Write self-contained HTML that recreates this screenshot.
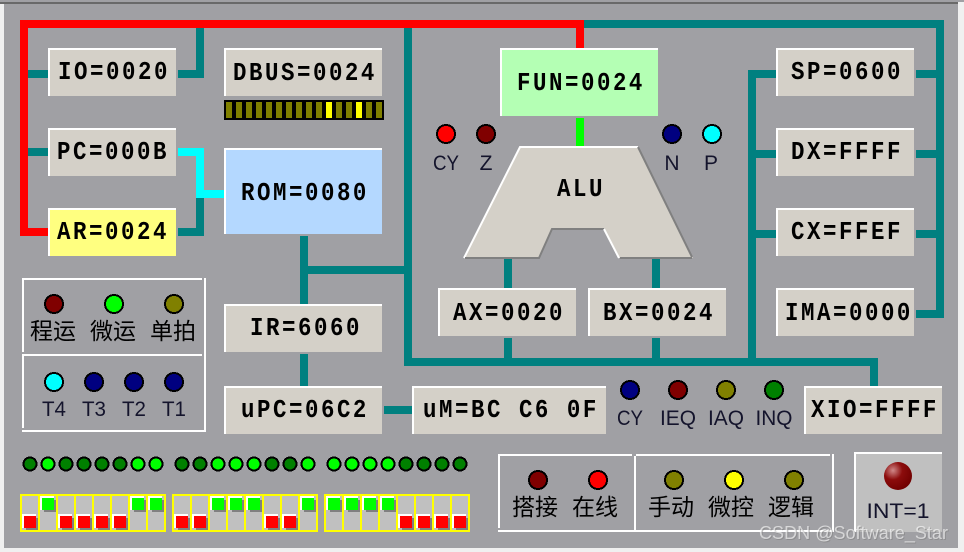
<!DOCTYPE html>
<html><head><meta charset="utf-8"><style>
html,body{margin:0;padding:0;background:#f0f0f0;width:964px;height:552px;overflow:hidden}
svg{display:block}
.m{font-family:"Liberation Mono",monospace;font-weight:bold;font-size:25.5px;letter-spacing:2.88px;fill:#000}
.s{font-family:"Liberation Sans",sans-serif;font-size:21px;fill:#14142c;text-anchor:middle}
.c{font-family:"Liberation Sans","WenQuanYi Zen Hei","Noto Sans CJK SC",sans-serif;font-size:23px;fill:#000;text-anchor:middle}
.l circle{stroke:#000;stroke-width:2}
</style></head><body>
<svg width="964" height="552" viewBox="0 0 964 552" xmlns="http://www.w3.org/2000/svg">
<defs>
<g id="on"><rect x="0" y="0" width="14" height="2" fill="#fff"/><rect x="0" y="0" width="2" height="14" fill="#fff"/><rect x="4" y="4" width="12" height="12" fill="#808080"/><rect x="2" y="2" width="12" height="12" fill="#0f0"/></g>
<g id="off"><rect x="0" y="0" width="14" height="2" fill="#fff"/><rect x="0" y="0" width="2" height="14" fill="#fff"/><rect x="4" y="4" width="12" height="12" fill="#808080"/><rect x="2" y="2" width="12" height="12" fill="#f00"/></g>
<radialGradient id="ball" cx="0.32" cy="0.3" r="0.75"><stop offset="0" stop-color="#d08888"/><stop offset="0.45" stop-color="#8c0c0c"/><stop offset="1" stop-color="#700000"/></radialGradient>
</defs>
<rect x="0" y="0" width="964" height="552" fill="#f0f0f0"/>
<rect x="4" y="0" width="954" height="548" fill="#a0a0a4"/>
<rect x="0" y="0" width="964" height="2" fill="#a0a0a4"/>
<rect x="0" y="2" width="958" height="2" fill="#696969"/>

<g shape-rendering="crispEdges">
<!-- teal wires -->
<g fill="#008080">
<rect x="28" y="70" width="20" height="8"/><rect x="28" y="148" width="20" height="8"/>
<rect x="178" y="70" width="26" height="8"/><rect x="196" y="28" width="8" height="50"/>
<rect x="178" y="228" width="26" height="8"/><rect x="196" y="198" width="8" height="38"/>
<rect x="300" y="236" width="8" height="68"/><rect x="300" y="266" width="108" height="8"/>
<rect x="300" y="354" width="8" height="32"/>
<rect x="384" y="406" width="28" height="8"/>
<rect x="404" y="28" width="8" height="338"/>
<rect x="404" y="358" width="474" height="8"/>
<rect x="870" y="358" width="8" height="28"/>
<rect x="748" y="70" width="8" height="296"/>
<rect x="748" y="70" width="28" height="8"/><rect x="748" y="150" width="28" height="8"/><rect x="748" y="230" width="28" height="8"/>
<rect x="584" y="20" width="360" height="8"/>
<rect x="936" y="20" width="8" height="298"/>
<rect x="916" y="70" width="28" height="8"/><rect x="916" y="150" width="28" height="8"/><rect x="916" y="230" width="28" height="8"/><rect x="916" y="310" width="28" height="8"/>
<rect x="504" y="258" width="8" height="30"/><rect x="504" y="338" width="8" height="22"/>
<rect x="652" y="258" width="8" height="30"/><rect x="652" y="338" width="8" height="22"/>
</g>
<!-- red wires -->
<g fill="#f00">
<rect x="20" y="20" width="564" height="8"/><rect x="20" y="20" width="8" height="216"/><rect x="20" y="228" width="28" height="8"/><rect x="576" y="20" width="8" height="28"/>
</g>
<!-- cyan -->
<g fill="#0ff">
<rect x="178" y="148" width="26" height="8"/><rect x="196" y="148" width="8" height="50"/><rect x="196" y="190" width="28" height="8"/>
</g>
<rect x="576" y="118" width="8" height="28" fill="#0f0"/>

<!-- boxes -->
<g fill="#fff">
<rect x="48" y="48" width="128" height="48"/><rect x="224" y="48" width="158" height="48"/>
<rect x="48" y="128" width="128" height="48"/><rect x="224" y="148" width="158" height="86"/>
<rect x="48" y="208" width="128" height="48"/><rect x="500" y="48" width="158" height="68"/>
<rect x="776" y="48" width="138" height="48"/><rect x="776" y="128" width="138" height="48"/>
<rect x="776" y="208" width="138" height="48"/><rect x="776" y="288" width="138" height="48"/>
<rect x="224" y="304" width="158" height="48"/><rect x="224" y="386" width="158" height="48"/>
<rect x="412" y="386" width="194" height="48"/><rect x="438" y="288" width="138" height="48"/>
<rect x="588" y="288" width="138" height="48"/><rect x="804" y="386" width="138" height="48"/>
<rect x="854" y="452" width="88" height="80"/>
</g>
<g fill="#d4d0c8">
<rect x="50" y="50" width="126" height="46"/><rect x="226" y="50" width="156" height="46"/>
<rect x="50" y="130" width="126" height="46"/>
<rect x="778" y="50" width="136" height="46"/><rect x="778" y="130" width="136" height="46"/>
<rect x="778" y="210" width="136" height="46"/><rect x="778" y="290" width="136" height="46"/>
<rect x="226" y="306" width="156" height="46"/><rect x="226" y="388" width="156" height="46"/>
<rect x="414" y="388" width="192" height="46"/><rect x="440" y="290" width="136" height="46"/>
<rect x="590" y="290" width="136" height="46"/><rect x="806" y="388" width="136" height="46"/>
</g>
<rect x="226" y="150" width="156" height="84" fill="#b4d8ff"/>
<rect x="50" y="210" width="126" height="46" fill="#ffff80"/>
<rect x="502" y="50" width="156" height="66" fill="#b4ffb4"/>
<rect x="856" y="454" width="86" height="78" fill="#c0c0c0"/>

<!-- DBUS bar -->
<rect x="224" y="100" width="160" height="20" fill="#000"/>
<g fill="#808000">
<rect x="226" y="102" width="6" height="16"/><rect x="236" y="102" width="6" height="16"/><rect x="246" y="102" width="6" height="16"/><rect x="256" y="102" width="6" height="16"/>
<rect x="266" y="102" width="6" height="16"/><rect x="276" y="102" width="6" height="16"/><rect x="286" y="102" width="6" height="16"/><rect x="296" y="102" width="6" height="16"/>
<rect x="306" y="102" width="6" height="16"/><rect x="316" y="102" width="6" height="16"/><rect x="326" y="102" width="6" height="16" fill="#ff0"/><rect x="336" y="102" width="6" height="16"/>
<rect x="346" y="102" width="6" height="16"/><rect x="356" y="102" width="6" height="16" fill="#ff0"/><rect x="366" y="102" width="6" height="16"/><rect x="376" y="102" width="6" height="16"/>
</g>

<!-- frames -->
<g fill="#fff">
<rect x="22" y="278" width="180" height="2"/><rect x="22" y="278" width="2" height="74"/><rect x="204" y="278" width="2" height="154"/>
<rect x="22" y="354" width="180" height="2"/><rect x="22" y="356" width="2" height="72"/><rect x="22" y="430" width="184" height="2"/>
<rect x="498" y="454" width="134" height="2"/><rect x="498" y="454" width="2" height="74"/><rect x="634" y="456" width="2" height="74"/>
<rect x="636" y="454" width="194" height="2"/><rect x="832" y="454" width="2" height="78"/><rect x="498" y="530" width="336" height="2"/>
</g>
</g>

<!-- ALU -->
<polygon points="464,258 520,146 638,146 693,258 619,258 604,228 552,228 539,258" fill="#d4d0c8"/>
<path d="M464,258 L520,147 L638,147" fill="none" stroke="#fff" stroke-width="2"/>
<path d="M638,147 L692,257" fill="none" stroke="#808080" stroke-width="2"/>
<path d="M465,258 L539,258 L552,229 L604,229" fill="none" stroke="#808080" stroke-width="2"/>
<path d="M604,229 L619,258" fill="none" stroke="#fff" stroke-width="2"/>
<path d="M620,258 L692,258" fill="none" stroke="#808080" stroke-width="2"/>

<!-- mono labels -->
<g>
<text class="m" transform="translate(58 79) scale(.88 1)">IO=0020</text>
<text class="m" transform="translate(233 80) scale(.88 1)">DBUS=0024</text>
<text class="m" transform="translate(57 159) scale(.88 1)">PC=000B</text>
<text class="m" transform="translate(241 200) scale(.88 1)">ROM=0080</text>
<text class="m" transform="translate(57 239) scale(.88 1)">AR=0024</text>
<text class="m" transform="translate(517 90) scale(.88 1)">FUN=0024</text>
<text class="m" transform="translate(557 196) scale(.88 1)">ALU</text>
<text class="m" transform="translate(791 79) scale(.88 1)">SP=0600</text>
<text class="m" transform="translate(791 159) scale(.88 1)">DX=FFFF</text>
<text class="m" transform="translate(791 239) scale(.88 1)">CX=FFEF</text>
<text class="m" transform="translate(785 320) scale(.88 1)">IMA=0000</text>
<text class="m" transform="translate(250 335) scale(.88 1)">IR=6060</text>
<text class="m" transform="translate(241 417) scale(.88 1)">uPC=06C2</text>
<text class="m" transform="translate(423 417) scale(.88 1)" xml:space="preserve">uM=BC C6 0F</text>
<text class="m" transform="translate(453 320) scale(.88 1)">AX=0020</text>
<text class="m" transform="translate(603 320) scale(.88 1)">BX=0024</text>
<text class="m" transform="translate(811 417) scale(.88 1)">XIO=FFFF</text>
</g>

<!-- LEDs -->
<g class="l" shape-rendering="crispEdges">
<circle cx="446" cy="134" r="9" fill="#f00"/><circle cx="486" cy="134" r="9" fill="#800000"/><circle cx="672" cy="134" r="9" fill="#000080"/><circle cx="712" cy="134" r="9" fill="#0ff"/>
<circle cx="54" cy="304" r="9" fill="#800000"/><circle cx="114" cy="304" r="9" fill="#0f0"/><circle cx="174" cy="304" r="9" fill="#808000"/>
<circle cx="54" cy="382" r="9" fill="#0ff"/><circle cx="94" cy="382" r="9" fill="#000080"/><circle cx="134" cy="382" r="9" fill="#000080"/><circle cx="174" cy="382" r="9" fill="#000080"/>
<circle cx="630" cy="390" r="9" fill="#000080"/><circle cx="678" cy="390" r="9" fill="#800000"/><circle cx="726" cy="390" r="9" fill="#808000"/><circle cx="774" cy="390" r="9" fill="#008000"/>
<circle cx="538" cy="480" r="9" fill="#800000"/><circle cx="598" cy="480" r="9" fill="#f00"/><circle cx="674" cy="480" r="9" fill="#808000"/><circle cx="734" cy="480" r="9" fill="#ff0"/><circle cx="794" cy="480" r="9" fill="#808000"/>
<!-- small row -->
<circle cx="30" cy="464" r="6.5" fill="#008000"/><circle cx="48" cy="464" r="6.5" fill="#0f0"/><circle cx="66" cy="464" r="6.5" fill="#008000"/><circle cx="84" cy="464" r="6.5" fill="#008000"/><circle cx="102" cy="464" r="6.5" fill="#008000"/><circle cx="120" cy="464" r="6.5" fill="#008000"/><circle cx="138" cy="464" r="6.5" fill="#0f0"/><circle cx="156" cy="464" r="6.5" fill="#0f0"/>
<circle cx="182" cy="464" r="6.5" fill="#008000"/><circle cx="200" cy="464" r="6.5" fill="#008000"/><circle cx="218" cy="464" r="6.5" fill="#0f0"/><circle cx="236" cy="464" r="6.5" fill="#0f0"/><circle cx="254" cy="464" r="6.5" fill="#0f0"/><circle cx="272" cy="464" r="6.5" fill="#008000"/><circle cx="290" cy="464" r="6.5" fill="#008000"/><circle cx="308" cy="464" r="6.5" fill="#0f0"/>
<circle cx="334" cy="464" r="6.5" fill="#0f0"/><circle cx="352" cy="464" r="6.5" fill="#0f0"/><circle cx="370" cy="464" r="6.5" fill="#0f0"/><circle cx="388" cy="464" r="6.5" fill="#0f0"/><circle cx="406" cy="464" r="6.5" fill="#008000"/><circle cx="424" cy="464" r="6.5" fill="#008000"/><circle cx="442" cy="464" r="6.5" fill="#008000"/><circle cx="460" cy="464" r="6.5" fill="#008000"/>
</g>

<!-- sans labels -->
<g>
<text class="s" x="446" y="170" textLength="26" lengthAdjust="spacingAndGlyphs">CY</text>
<text class="s" x="486" y="170">Z</text>
<text class="s" x="672" y="170">N</text>
<text class="s" x="711" y="170">P</text>
<text class="s" x="54" y="416" textLength="24" lengthAdjust="spacingAndGlyphs">T4</text>
<text class="s" x="94" y="416" textLength="24" lengthAdjust="spacingAndGlyphs">T3</text>
<text class="s" x="134" y="416" textLength="24" lengthAdjust="spacingAndGlyphs">T2</text>
<text class="s" x="174" y="416" textLength="24" lengthAdjust="spacingAndGlyphs">T1</text>
<text class="s" x="630" y="425" textLength="26" lengthAdjust="spacingAndGlyphs">CY</text>
<text class="s" x="678" y="425" textLength="36" lengthAdjust="spacingAndGlyphs">IEQ</text>
<text class="s" x="726" y="425" textLength="36" lengthAdjust="spacingAndGlyphs">IAQ</text>
<text class="s" x="774" y="425" textLength="37" lengthAdjust="spacingAndGlyphs">INQ</text>
<text class="s" x="898" y="518" textLength="63" lengthAdjust="spacingAndGlyphs">INT=1</text>
</g>
<g>
<text class="c" x="53" y="339">程运</text><text class="c" x="113" y="339">微运</text><text class="c" x="173" y="339">单拍</text>
<text class="c" x="535" y="515">搭接</text><text class="c" x="595" y="515">在线</text>
<text class="c" x="671" y="515">手动</text><text class="c" x="731" y="515">微控</text><text class="c" x="791" y="515">逻辑</text>
</g>

<circle cx="898" cy="476" r="14" fill="url(#ball)"/>

<!-- switches -->
<g shape-rendering="crispEdges">
<rect x="20" y="494" width="146" height="38" fill="#ff0"/><rect x="172" y="494" width="146" height="38" fill="#ff0"/><rect x="324" y="494" width="146" height="38" fill="#ff0"/>
<g fill="#c0c0c0">
<rect x="22" y="496" width="16" height="34"/><rect x="40" y="496" width="16" height="34"/><rect x="58" y="496" width="16" height="34"/><rect x="76" y="496" width="16" height="34"/><rect x="94" y="496" width="16" height="34"/><rect x="112" y="496" width="16" height="34"/><rect x="130" y="496" width="16" height="34"/><rect x="148" y="496" width="16" height="34"/>
<rect x="174" y="496" width="16" height="34"/><rect x="192" y="496" width="16" height="34"/><rect x="210" y="496" width="16" height="34"/><rect x="228" y="496" width="16" height="34"/><rect x="246" y="496" width="16" height="34"/><rect x="264" y="496" width="16" height="34"/><rect x="282" y="496" width="16" height="34"/><rect x="300" y="496" width="16" height="34"/>
<rect x="326" y="496" width="16" height="34"/><rect x="344" y="496" width="16" height="34"/><rect x="362" y="496" width="16" height="34"/><rect x="380" y="496" width="16" height="34"/><rect x="398" y="496" width="16" height="34"/><rect x="416" y="496" width="16" height="34"/><rect x="434" y="496" width="16" height="34"/><rect x="452" y="496" width="16" height="34"/>
</g>
<use href="#off" x="22" y="514"/><use href="#on" x="40" y="496"/><use href="#off" x="58" y="514"/><use href="#off" x="76" y="514"/><use href="#off" x="94" y="514"/><use href="#off" x="112" y="514"/><use href="#on" x="130" y="496"/><use href="#on" x="148" y="496"/>
<use href="#off" x="174" y="514"/><use href="#off" x="192" y="514"/><use href="#on" x="210" y="496"/><use href="#on" x="228" y="496"/><use href="#on" x="246" y="496"/><use href="#off" x="264" y="514"/><use href="#off" x="282" y="514"/><use href="#on" x="300" y="496"/>
<use href="#on" x="326" y="496"/><use href="#on" x="344" y="496"/><use href="#on" x="362" y="496"/><use href="#on" x="380" y="496"/><use href="#off" x="398" y="514"/><use href="#off" x="416" y="514"/><use href="#off" x="434" y="514"/><use href="#off" x="452" y="514"/>
</g>

<!-- watermark -->
<text x="759" y="539" font-family="Liberation Sans, sans-serif" font-size="18.5" fill="#808080" opacity=".55" textLength="189" lengthAdjust="spacingAndGlyphs" transform="translate(1,1)">CSDN @Software_Star</text>
<text x="759" y="539" font-family="Liberation Sans, sans-serif" font-size="18.5" fill="#fff" opacity=".6" textLength="189" lengthAdjust="spacingAndGlyphs">CSDN @Software_Star</text>
</svg>
</body></html>
